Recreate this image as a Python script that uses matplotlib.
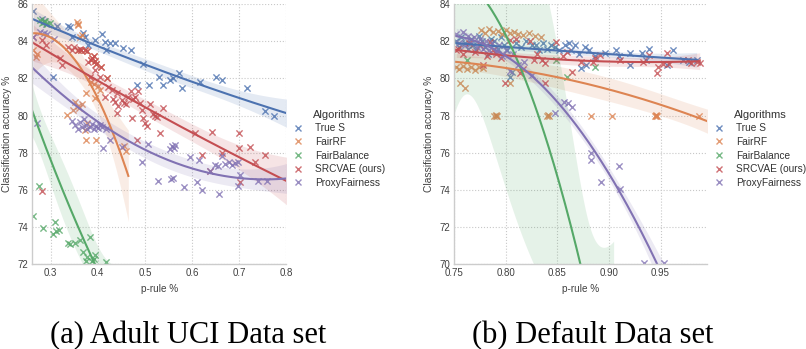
import numpy as np
import matplotlib
matplotlib.use("Agg")
import matplotlib.pyplot as plt
from matplotlib.lines import Line2D

plt.rcParams['font.family'] = ['Liberation Sans', 'DejaVu Sans']

ALGORITHMS = ["True S", "FairRF", "FairBalance", "SRCVAE (ours)", "ProxyFairness"]
COLORS = ['#4C72B0', '#DD8452', '#55A868', '#C44E52', '#8172B3']

# ---------------- (a) Adult UCI data set ----------------
adult_trues_x = [0.263, 0.281, 0.285, 0.290, 0.304, 0.313, 0.337, 0.342, 0.345, 0.369,
                 0.373, 0.380, 0.394, 0.408, 0.415, 0.417, 0.426, 0.437, 0.453, 0.470,
                 0.497, 0.483, 0.509, 0.531, 0.539, 0.553, 0.560, 0.573, 0.578, 0.617,
                 0.651, 0.665, 0.718, 0.755, 0.774, 0.810]
adult_trues_y = [85.6, 85.2, 85.1, 84.9, 82.06, 84.8, 84.82, 84.75, 84.24, 84.42,
                 84.2, 83.8, 84.06, 84.37, 83.97, 83.53, 83.9, 83.9, 83.65, 83.53,
                 82.8, 81.65, 81.65, 82.1, 81.65, 81.9, 82.0, 82.27, 81.47, 81.8,
                 82.06, 81.9, 81.5, 80.25, 79.98, 79.95]

adult_fairrf_x = [0.263, 0.269, 0.272, 0.355, 0.357, 0.359, 0.362, 0.366, 0.334, 0.348,
                  0.352, 0.358, 0.376, 0.385, 0.391, 0.394, 0.400, 0.405, 0.372, 0.374,
                  0.377, 0.396, 0.456, 0.461,
                  0.372, 0.392, 0.388, 0.385, 0.378, 0.365, 0.357, 0.406, 0.397, 0.395, 0.420,
                  0.360, 0.366, 0.263, 0.465]
adult_fairrf_y = [83.53, 83.13, 83.3, 85.05, 84.95, 84.87, 84.24, 84.33, 80.03, 80.3,
                  80.75, 80.5, 81.2, 81.82, 81.7, 80.93, 81.6, 81.4, 79.23, 78.7,
                  79.6, 78.7, 78.37, 78.1,
                  83.55, 83.2, 83.1, 83.0, 83.45, 83.5, 83.5, 82.6, 82.8, 82.95, 82.0,
                  80.4, 80.6, 89.39, 71.86]

adult_fairbal_x = [0.277, 0.281, 0.285, 0.288, 0.293, 0.299, 0.262, 0.276, 0.283, 0.309,
                   0.304, 0.311, 0.318, 0.337, 0.341, 0.352, 0.362, 0.368, 0.383, 0.378,
                   0.374, 0.394, 0.388, 0.392, 0.417,
                   0.252, 0.252, 0.252, 0.252, 0.413, 0.453,
                   0.240, 0.243, 0.246, 0.249, 0.250, 0.252,
                   0.400, 0.405, 0.410, 0.420, 0.425, 0.430, 0.435, 0.440]
adult_fairbal_y = [85.14, 84.96, 85.05, 85.1, 84.9, 84.96, 74.6, 76.2, 73.94, 74.3,
                   73.63, 73.8, 73.85, 73.13, 73.1, 73.13, 73.3, 72.68, 73.45, 72.4,
                   72.2, 72.5, 72.2, 72.3, 72.1,
                   78.94, 78.94, 78.94, 78.94, 67.59, 71.58,
                   81.73, 81.52, 81.30, 81.09, 81.02, 80.87,
                   71.68, 71.42, 71.15, 70.64, 70.39, 70.14, 69.89, 69.65]

adult_srcvae_x = [0.263, 0.281, 0.290, 0.282, 0.320, 0.323, 0.337, 0.345, 0.350, 0.357,
                  0.362, 0.365, 0.372, 0.378, 0.380, 0.385, 0.388, 0.392, 0.395, 0.397,
                  0.394, 0.406, 0.405, 0.384, 0.420, 0.422, 0.415, 0.430, 0.432, 0.437,
                  0.441, 0.444, 0.440, 0.452, 0.455, 0.459, 0.465, 0.470, 0.474, 0.480,
                  0.485, 0.472, 0.490, 0.493, 0.497, 0.500, 0.505, 0.511, 0.518, 0.522,
                  0.525, 0.539, 0.532, 0.483, 0.606, 0.642, 0.700, 0.700, 0.723, 0.755,
                  0.621, 0.663, 0.638, 0.702, 0.734, 0.812]
adult_srcvae_y = [84.2, 84.06, 83.8, 75.95, 83.1, 82.72, 83.7, 83.53, 83.7, 83.5,
                  83.6, 83.5, 83.55, 83.45, 82.9, 83.0, 83.1, 83.2, 82.95, 82.8,
                  82.45, 82.6, 82.1, 82.1, 82.0, 81.55, 81.0, 81.4, 80.9, 80.75,
                  81.2, 80.5, 80.12, 80.85, 80.7, 80.6, 81.0, 81.3, 80.9, 81.0,
                  81.3, 79.85, 80.66, 80.3, 79.85, 79.6, 79.45, 80.6, 80.1, 80.0,
                  79.9, 80.4, 79.08, 78.7, 79.08, 79.13, 79.08, 78.24, 78.33, 77.88,
                  77.88, 77.97, 77.0, 76.4, 77.52, 76.3]

adult_proxy_x = [0.263, 0.277, 0.285, 0.292, 0.306, 0.271, 0.345, 0.352, 0.358, 0.362,
                 0.366, 0.370, 0.374, 0.378, 0.383, 0.388, 0.392, 0.396, 0.400, 0.405,
                 0.410, 0.418, 0.426, 0.412, 0.451, 0.493, 0.507, 0.553, 0.557, 0.561,
                 0.565, 0.529, 0.555, 0.559, 0.583, 0.596, 0.610, 0.616, 0.622, 0.638,
                 0.649, 0.655, 0.665, 0.670, 0.678, 0.685, 0.692, 0.698, 0.658, 0.698,
                 0.702, 0.741, 0.759, 0.812, 0.250, 0.815, 0.950]
adult_proxy_y = [84.2, 84.5, 84.45, 84.4, 84.1, 79.6, 79.7, 79.5, 79.3, 79.65,
                 79.4, 79.8, 79.5, 79.3, 79.4, 79.55, 79.3, 79.45, 79.35, 79.5,
                 79.4, 79.3, 78.7, 78.27, 78.3, 77.5, 78.47, 78.2, 78.35, 78.25,
                 78.4, 76.5, 76.6, 76.65, 76.18, 77.76, 76.45, 77.6, 76.0, 77.04,
                 77.35, 77.3, 77.8, 77.4, 77.5, 77.35, 77.45, 77.5, 75.77, 76.2,
                 76.8, 76.5, 76.5, 76.5, 82.25, 80.69, 74.09]

# ---------------- (b) Default data set ----------------
default_trues_x = [0.752, 0.755, 0.757, 0.760, 0.763, 0.766, 0.768, 0.771, 0.774, 0.777,
                   0.780, 0.783, 0.786, 0.789, 0.792, 0.795, 0.798, 0.801, 0.804, 0.806,
                   0.810, 0.815, 0.820, 0.825, 0.829, 0.832, 0.836, 0.840, 0.844, 0.848,
                   0.852, 0.857, 0.861, 0.863, 0.867, 0.871, 0.873, 0.877, 0.878, 0.881,
                   0.886, 0.896, 0.907, 0.910, 0.920, 0.920, 0.932, 0.939, 0.936, 0.956,
                   0.962, 0.972, 0.978, 0.985]
default_trues_y = [82.0, 81.7, 82.2, 81.9, 81.6, 82.1, 81.8, 81.5, 82.3, 82.0,
                   81.7, 81.3, 82.1, 82.0, 81.6, 82.2, 81.8, 81.5, 80.1, 80.36,
                   81.9, 81.7, 82.0, 81.8, 81.8, 81.5, 81.89, 81.6, 81.8, 81.7,
                   81.5, 81.8, 81.89, 81.5, 81.8, 81.3, 80.54, 81.7, 80.7, 81.5,
                   81.2, 81.35, 81.53, 81.2, 81.35, 80.7, 81.35, 81.6, 81.0, 80.7,
                   81.53, 80.99, 80.9, 80.99]

default_fairrf_x = [0.776, 0.780, 0.784, 0.788, 0.792, 0.796, 0.800, 0.804, 0.808, 0.812,
                    0.817, 0.822, 0.828, 0.834,
                    0.752, 0.755, 0.758, 0.762, 0.766, 0.770, 0.774, 0.778,
                    0.756, 0.760, 0.804, 0.789, 0.790, 0.791, 0.790, 0.840, 0.841, 0.842,
                    0.883, 0.903, 0.945, 0.946, 0.947, 0.946, 0.987,
                    0.700, 0.700, 0.710, 0.710, 0.720, 0.720, 0.730, 0.730, 0.740, 0.740,
                    1.000, 1.000, 1.010, 1.010, 1.020, 1.020, 1.030, 1.030, 1.040, 1.040]
default_fairrf_y = [82.6, 82.45, 82.65, 82.5, 82.55, 82.4, 82.6, 82.45, 82.5, 82.4,
                    82.35, 82.45, 82.3, 82.25,
                    80.6, 80.5, 80.65, 80.5, 80.6, 80.45, 80.6, 80.55,
                    79.74, 79.47, 79.74, 78.0, 78.05, 77.95, 78.0, 78.0, 78.05, 77.95,
                    78.0, 78.0, 78.0, 78.05, 77.95, 78.0, 78.0,
                    80.94, 80.94, 80.93, 80.93, 80.91, 80.91, 80.88, 80.88, 80.85, 80.85,
                    77.77, 77.77, 77.57, 77.57, 77.36, 77.36, 77.14, 77.14, 76.92, 76.92]

default_fairbal_x = [0.762, 0.849, 0.859, 0.886, 0.750, 0.875, 0.875, 0.875, 0.875, 0.905,
                     0.755, 0.770, 0.880, 0.890]
default_fairbal_y = [81.0, 81.0, 80.1, 80.6, 88.65, 62.5, 63.3, 62.6, 63.2, 61.85,
                     86.0, 84.6, 68.0, 65.8]

default_srcvae_x = [0.752, 0.754, 0.758, 0.764, 0.770, 0.775, 0.778, 0.782, 0.785, 0.788,
                    0.790, 0.795, 0.799, 0.804, 0.810, 0.814, 0.817, 0.823, 0.827, 0.830,
                    0.835, 0.838, 0.838, 0.849, 0.855, 0.859, 0.864, 0.873, 0.885, 0.886,
                    0.891, 0.911, 0.933, 0.939, 0.947, 0.948, 0.952, 0.956, 0.958, 0.977,
                    0.980, 0.985, 0.988]
default_srcvae_y = [81.5, 81.56, 81.3, 81.92, 81.4, 81.8, 80.72, 81.2, 81.97, 81.5,
                    81.3, 81.1, 79.77, 82.06, 82.1, 80.27, 80.5, 82.03, 80.99, 81.3,
                    81.0, 80.81, 79.74, 81.97, 81.2, 81.44, 80.36, 80.9, 80.9, 81.1,
                    81.26, 80.99, 80.9, 81.26, 80.31, 80.63, 80.8, 81.35, 80.8, 80.99,
                    80.85, 80.9, 80.85]

default_proxy_x = [0.752, 0.755, 0.758, 0.760, 0.763, 0.766, 0.769, 0.772, 0.775, 0.778,
                   0.781, 0.784, 0.787, 0.790, 0.793, 0.796, 0.800, 0.804, 0.807, 0.812,
                   0.818, 0.825, 0.848, 0.856, 0.860, 0.864, 0.883, 0.883, 0.892, 0.910,
                   0.911, 0.934, 0.953]
default_proxy_y = [82.4, 81.9, 82.5, 81.8, 82.3, 81.9, 82.2, 81.7, 82.1, 81.6,
                   82.0, 81.5, 81.9, 81.4, 81.8, 81.2, 81.5, 80.4, 81.3, 80.7,
                   80.9, 80.2, 78.12, 78.75, 78.65, 78.48, 75.97, 75.6, 74.45, 75.29,
                   74.04, 70.06, 70.09]

adult_xticks = [0.3, 0.4, 0.5, 0.6, 0.7, 0.8]
adult_xticklabels = ["0.3", "0.4", "0.5", "0.6", "0.7", "0.8"]
adult_yticks = [72, 74, 76, 78, 80, 82, 84, 86]
default_xticks = [0.75, 0.80, 0.85, 0.90, 0.95]
default_xticklabels = ["0.75", "0.80", "0.85", "0.90", "0.95"]
default_yticks = [70, 72, 74, 76, 78, 80, 82, 84]
captions = ["(a) Adult UCI Data set", "(b) Default Data set"]


def quad_fit(x, y, grid):
    X = np.vander(x, 3)
    beta, *_ = np.linalg.lstsq(X, y, rcond=None)
    resid = y - X @ beta
    s2 = resid @ resid / (len(x) - 3)
    cov = np.linalg.inv(X.T @ X) * s2
    G = np.vander(grid, 3)
    yhat = G @ beta
    se = np.sqrt(np.einsum('ij,jk,ik->i', G, cov, G))
    return yhat, yhat - 1.96 * se, yhat + 1.96 * se


def draw_panel(ax, xs, ys, xlim, ylim, xticks, xticklabels, yticks):
    for x, y, c in zip(xs, ys, COLORS):
        x = np.asarray(x, float)
        y = np.asarray(y, float)
        ax.scatter(x, y, marker='x', s=20, linewidths=1.0, color=c, alpha=0.8)
        grid = np.linspace(x.min(), x.max(), 200)
        yhat, lo, hi = quad_fit(x, y, grid)
        ax.fill_between(grid, lo, hi, color=c, alpha=0.15, linewidth=0)
        ax.plot(grid, yhat, color=c, lw=1.5)
    ax.set_xlim(*xlim)
    ax.set_ylim(*ylim)
    ax.set_xticks(xticks)
    ax.set_xticklabels(xticklabels)
    ax.set_yticks(yticks)
    ax.grid(True, linestyle=':', color='#c8c8c8', linewidth=0.8)
    ax.set_axisbelow(True)
    for s in ['top', 'right']:
        ax.spines[s].set_visible(False)
    for s in ['left', 'bottom']:
        ax.spines[s].set_color('#cccccc')
        ax.spines[s].set_linewidth(1.0)
    ax.tick_params(length=0, pad=3, labelsize=7, labelcolor='#404040')
    ax.set_xlabel("p-rule %", fontsize=7.2, color='#404040', labelpad=4)
    ax.set_ylabel("Classification accuracy %", fontsize=7.4, color='#404040', labelpad=4)
    handles = [Line2D([], [], marker='x', linestyle='', color=c, markersize=4.5,
                      markeredgewidth=1.0, alpha=0.8) for c in COLORS]
    leg = ax.legend(handles, ALGORITHMS, title="Algorithms", loc='center left',
                    bbox_to_anchor=(1.027, 0.444), frameon=False, fontsize=7.3,
                    title_fontsize=8, handlelength=1.0, handletextpad=1.2,
                    labelspacing=0.35, borderpad=0, borderaxespad=0)
    for t in leg.get_texts():
        t.set_color('#333333')
    leg.get_title().set_color('#333333')


fig = plt.figure(figsize=(8.06, 3.49), dpi=100)
ax1 = fig.add_axes([0.0401, 0.2427, 0.3148, 0.7458])
ax2 = fig.add_axes([0.5636, 0.2427, 0.3135, 0.7458])

draw_panel(ax1,
           [adult_trues_x, adult_fairrf_x, adult_fairbal_x, adult_srcvae_x, adult_proxy_x],
           [adult_trues_y, adult_fairrf_y, adult_fairbal_y, adult_srcvae_y, adult_proxy_y],
           (0.261, 0.8), (72, 86), adult_xticks, adult_xticklabels, adult_yticks)
draw_panel(ax2,
           [default_trues_x, default_fairrf_x, default_fairbal_x, default_srcvae_x, default_proxy_x],
           [default_trues_y, default_fairrf_y, default_fairbal_y, default_srcvae_y, default_proxy_y],
           (0.75, 0.995), (70, 84), default_xticks, default_xticklabels, default_yticks)

fig.text(0.233, 0.017, captions[0], fontsize=22, family=['Liberation Serif', 'DejaVu Serif'],
         ha='center', va='baseline', color='black')
fig.text(0.735, 0.017, captions[1], fontsize=22, family=['Liberation Serif', 'DejaVu Serif'],
         ha='center', va='baseline', color='black')

fig.savefig("out.png", dpi=100)
